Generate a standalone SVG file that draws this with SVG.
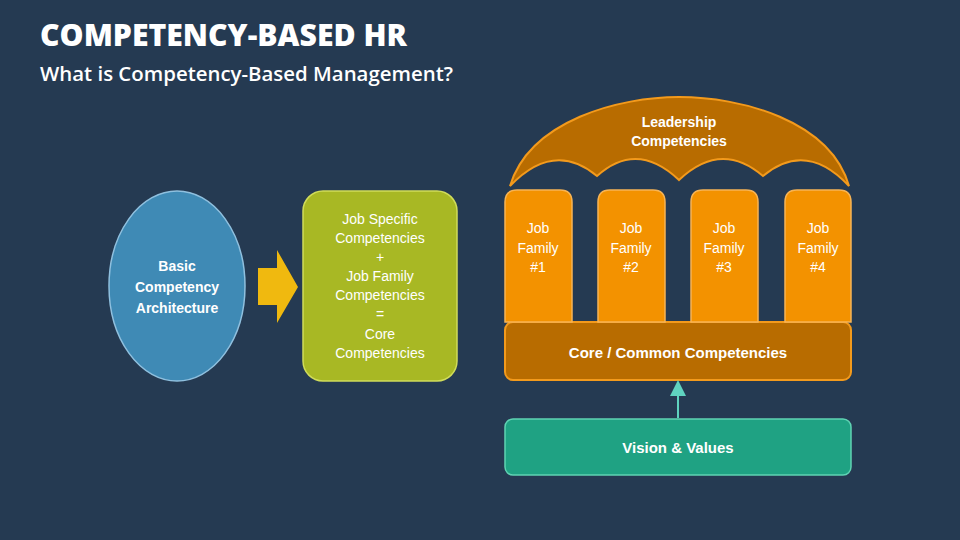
<svg xmlns="http://www.w3.org/2000/svg" width="960" height="540" viewBox="0 0 960 540">
<style>
text{font-family:"Liberation Sans",Arial,sans-serif;fill:#fff;text-anchor:middle}
.b{font-weight:bold}
.t{font-size:14px}
.col{fill:#f39200;stroke:#f7b455;stroke-width:1.5}
</style>
<defs><marker id="ah" markerWidth="8" markerHeight="8" refX="4" refY="4" orient="auto"><path d="M0,0 L8,4 L0,8 Z" fill="#5fd3c0"/></marker></defs>
<rect width="960" height="540" fill="#253a52"/>
<text x="40" y="46" class="b" style="font-size:30px;text-anchor:start;font-family:'Open Sans',sans-serif;font-weight:800" textLength="367" lengthAdjust="spacingAndGlyphs">COMPETENCY-BASED HR</text>
<text x="40" y="81" style="font-size:19px;text-anchor:start;font-family:'Open Sans',sans-serif;font-weight:600" textLength="413" lengthAdjust="spacingAndGlyphs">What is Competency-Based Management?</text>
<g id="basic">
<ellipse cx="177" cy="286" rx="68" ry="95" fill="#3f8ab5" stroke="#8fc0df" stroke-width="1.5"/>
<text x="177" y="271" class="b t">Basic</text><text x="177" y="292" class="b t">Competency</text><text x="177" y="313" class="b t">Architecture</text>
</g>
<g id="arrow"><path d="M258,268 H277 V250 L298,287 L277,323 V305 H258 Z" fill="#f0b90f"/></g>
<g id="core-def">
<rect x="303" y="191" width="154" height="190" rx="20" fill="#a8b824" stroke="#d0dc5a" stroke-width="1.5"/>
<text class="t" x="380" y="224">Job Specific</text><text class="t" x="380" y="243">Competencies</text><text class="t" x="380" y="262">+</text><text class="t" x="380" y="281">Job Family</text><text class="t" x="380" y="300">Competencies</text><text class="t" x="380" y="319">=</text><text class="t" x="380" y="339">Core</text><text class="t" x="380" y="358">Competencies</text>
</g>
<g id="leadership">
<path d="M510,186 C530,120 620,97 679,97 C740,97 830,120 849,186 Q806,140 763,176 Q721,140 679,180 Q637,140 597,176 Q554,140 510,186 Z" fill="#b86c00" stroke="#f39a1c" stroke-width="2"/>
<text x="679" y="127" class="b t">Leadership</text><text x="679" y="146" class="b t">Competencies</text>
</g>
<g id="base">
<rect x="505" y="322" width="346" height="58" rx="8" fill="#b86c00" stroke="#f39a1c" stroke-width="2"/>
<text x="678" y="358" class="b" style="font-size:15px">Core / Common Competencies</text>
</g>
<g id="jf1"><path class="col" d="M505,322 V202 Q505,190 517,190 H560 Q572,190 572,202 V322 Z"/><text class="t" x="538" y="233">Job</text><text class="t" x="538" y="253">Family</text><text class="t" x="538" y="272">#1</text></g>
<g id="jf2"><path class="col" d="M598,322 V202 Q598,190 610,190 H653 Q665,190 665,202 V322 Z"/><text class="t" x="631" y="233">Job</text><text class="t" x="631" y="253">Family</text><text class="t" x="631" y="272">#2</text></g>
<g id="jf3"><path class="col" d="M691,322 V202 Q691,190 703,190 H746 Q758,190 758,202 V322 Z"/><text class="t" x="724" y="233">Job</text><text class="t" x="724" y="253">Family</text><text class="t" x="724" y="272">#3</text></g>
<g id="jf4"><path class="col" d="M785,322 V202 Q785,190 797,190 H839 Q851,190 851,202 V322 Z"/><text class="t" x="818" y="233">Job</text><text class="t" x="818" y="253">Family</text><text class="t" x="818" y="272">#4</text></g>
<g id="vision">
<rect x="505" y="419" width="346" height="56" rx="8" fill="#1fa283" stroke="#5fd3b3" stroke-width="1.5"/>
<text x="678" y="453" class="b" style="font-size:15px">Vision &amp; Values</text>
</g>
<g id="connectors"><line x1="678" y1="418" x2="678" y2="388" stroke="#5fd3c0" stroke-width="2" marker-end="url(#ah)"/></g>
</svg>
